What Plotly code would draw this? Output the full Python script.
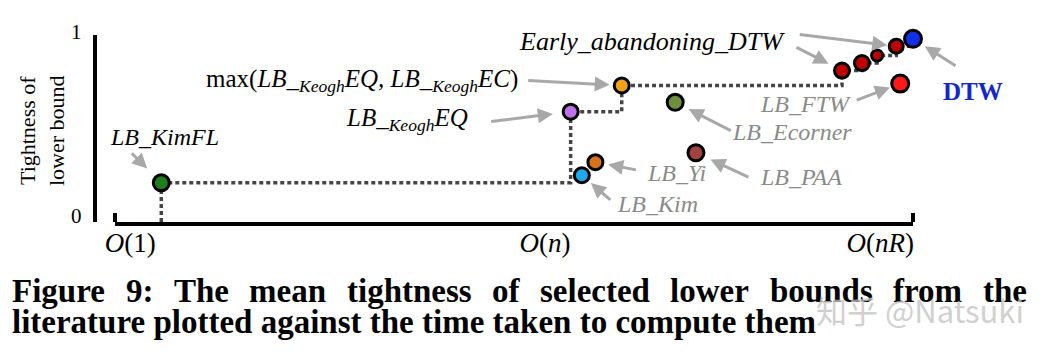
import plotly.graph_objects as go

# ---------------- data ----------------
bounds = ["LB_KimFL", "LB_Kim", "LB_Yi", "LB_KeoghEQ", "max_Keogh",
          "EA_DTW_1", "EA_DTW_2", "EA_DTW_3", "EA_DTW_4",
          "LB_Ecorner", "LB_PAA", "LB_FTW", "DTW"]
time_cost = [5.8, 58.5, 60.2, 57.1, 63.5, 91.1, 93.6, 95.5, 97.9, 70.2, 72.8, 98.4, 100.0]
tightness = [0.21, 0.25, 0.32, 0.59, 0.73, 0.81, 0.85, 0.89, 0.94, 0.64, 0.37, 0.74, 0.98]

# lower-envelope (best bound for given time) path
frontier = ["LB_KimFL", "LB_KeoghEQ", "max_Keogh", "EA_DTW_1", "EA_DTW_2",
            "EA_DTW_3", "EA_DTW_4", "DTW"]

complexity_pos = [1.9, 53.9, 95.9]
complexity_labels = ["<i>O</i>(1)", "<i>O</i>(<i>n</i>)", "<i>O</i>(<i>nR</i>)"]
y_tick_vals = [0, 1]
y_tick_text = ["0", "1"]

# ---------------- styles ----------------
colors = {
    "LB_KimFL": "#1e7d1e", "LB_Kim": "#22a8ec", "LB_Yi": "#d8731a",
    "LB_KeoghEQ": "#c070ea", "max_Keogh": "#f4a21c",
    "EA_DTW_1": "#c00000", "EA_DTW_2": "#c00000", "EA_DTW_3": "#c00000", "EA_DTW_4": "#c00000",
    "LB_Ecorner": "#6f8f3a", "LB_PAA": "#a04242", "LB_FTW": "#ff1a1a", "DTW": "#1030e8",
}
sizes = {
    "LB_KimFL": 16, "LB_Kim": 15, "LB_Yi": 15, "LB_KeoghEQ": 15, "max_Keogh": 15,
    "EA_DTW_1": 15, "EA_DTW_2": 15, "EA_DTW_3": 11, "EA_DTW_4": 14,
    "LB_Ecorner": 16, "LB_PAA": 16, "LB_FTW": 17, "DTW": 17,
}

SERIF = "Liberation Serif, Times New Roman, serif"
OFF = 8                      # page body margin added by the html page
PAGE_W, PAGE_H = 1048, 356
W, H = PAGE_W - OFF, PAGE_H - OFF
ML, MT = 95 - OFF, 35 - OFF
MR, MB = PAGE_W - 913, PAGE_H - 222
PW, PH = W - ML - MR, H - MT - MB

def px2paper(xp, yp):
    """page pixel -> paper coords"""
    return (xp - OFF - ML) / PW, (H - MB - (yp - OFF)) / PH

idx = {b: i for i, b in enumerate(bounds)}
fx = [time_cost[idx[b]] for b in frontier]
fy = [tightness[idx[b]] for b in frontier]

fig = go.Figure()

dot_line = dict(color="#454545", width=3.5, dash="4px,3px")
fig.add_trace(go.Scatter(x=[fx[0], fx[0]], y=[0, fy[0]], mode="lines",
                         line=dot_line, hoverinfo="skip", cliponaxis=False))
fig.add_trace(go.Scatter(x=fx, y=fy, mode="lines", line=dot_line, line_shape="hv",
                         hoverinfo="skip", cliponaxis=False))
fig.add_trace(go.Scatter(
    x=time_cost, y=tightness, mode="markers", cliponaxis=False, opacity=1,
    marker=dict(color=[colors[b] for b in bounds], size=[sizes[b] for b in bounds],
                opacity=1, line=dict(color="black", width=3)),
    text=bounds, hoverinfo="text"))

ann = []
GRAY = "#8a8a8a"
ARROW = "#a8a8a8"

def label(b, text, xshift, yshift, color="black", size=24, anchor="center"):
    ann.append(dict(x=time_cost[idx[b]], y=tightness[idx[b]], text=text, showarrow=False,
                    xshift=xshift, yshift=yshift, xanchor=anchor, yanchor="middle",
                    font=dict(family=SERIF, size=size, color=color)))

def arrow(b, ax, ay, standoff):
    ann.append(dict(x=time_cost[idx[b]], y=tightness[idx[b]], text="", showarrow=True,
                    ax=ax, ay=ay, standoff=standoff, arrowhead=2, arrowsize=1,
                    arrowwidth=3, arrowcolor=ARROW))

label("LB_KimFL", "<i>LB_KimFL</i>", 3, 46)
arrow("LB_KimFL", -31, -31, 20)
label("max_Keogh", "max(<i>LB_<sub>Keogh</sub>EQ, LB_<sub>Keogh</sub>EC</i>)", -102, 5, anchor="right", size=25)
arrow("max_Keogh", -95, -5, 12)
label("LB_KeoghEQ", "<i>LB_<sub>Keogh</sub>EQ</i>", -101, -8, anchor="right", size=25)
arrow("LB_KeoghEQ", -81, 10, 18)
label("EA_DTW_1", "<i>Early_abandoning_DTW</i>", -55, 29, anchor="right", size=26)
arrow("EA_DTW_4", -98, -12, 9)
arrow("EA_DTW_1", -47, -24, 15)
label("DTW", "<b>DTW</b>", 60, -53, color="#1428c8", size=25)
arrow("DTW", 44, 28, 14)
label("LB_FTW", "<i>LB_FTW</i>", -47, -20, color=GRAY, anchor="right")
arrow("LB_FTW", -45, 17, 11)
label("LB_Ecorner", "<i>LB_Ecorner</i>", 55, -30, color=GRAY, anchor="left")
arrow("LB_Ecorner", 57, 29, 15)
label("LB_PAA", "<i>LB_PAA</i>", 62, -24, color=GRAY, anchor="left")
arrow("LB_PAA", 54, 25, 16)
label("LB_Yi", "<i>LB_Yi</i>", 50, -11, color=GRAY, anchor="left")
arrow("LB_Yi", 42, 8, 13)
label("LB_Kim", "<i>LB_Kim</i>", 33, -29, color=GRAY, anchor="left")
arrow("LB_Kim", 30, 26, 12)

# y tick labels (sit slightly above their bracket ticks)
lx, _ = px2paper(76, 0)
for v, t, ys in zip(y_tick_vals, y_tick_text, [6, 3]):
    ann.append(dict(xref="paper", yref="y", x=lx, y=v, yshift=ys, text=t, showarrow=False,
                    xanchor="center", yanchor="middle",
                    font=dict(family=SERIF, size=21, color="black")))

# y-axis title (two lines, rotated)
tx, ty = px2paper(42, 131)
ann.append(dict(xref="paper", yref="paper", x=tx, y=ty, text="Tightness of<br>lower bound",
                textangle=-90, showarrow=False, xanchor="center", yanchor="middle",
                font=dict(family=SERIF, size=22, color="black")))

# caption, justified first line
line1_words = ["Figure", "9:", "The", "mean", "tightness", "of", "selected", "lower", "bounds", "from", "the"]
line1_left = [10, 124, 172, 247, 345, 490, 538, 668, 768, 891, 981]
for w, xl in zip(line1_words, line1_left):
    cx, cy = px2paper(xl, 291)
    ann.append(dict(xref="paper", yref="paper", x=cx, y=cy, text=f"<b>{w}</b>", showarrow=False,
                    xanchor="left", yanchor="middle", font=dict(family=SERIF, size=33, color="black")))
cx, cy = px2paper(10, 322)
ann.append(dict(xref="paper", yref="paper", x=cx, y=cy,
                text="<b>literature plotted against the time taken to compute them</b>",
                showarrow=False, xanchor="left", yanchor="middle",
                font=dict(family=SERIF, size=33, color="black")))
# watermark
wx, wy = px2paper(1026, 309)
ann.append(dict(xref="paper", yref="paper", x=wx, y=wy, text="知乎 @Natsuki", showarrow=False,
                xanchor="right", yanchor="middle",
                font=dict(family="Noto Sans CJK SC, Noto Sans, sans-serif", size=31,
                          color="rgba(195,195,195,0.8)")))

fig.update_layout(
    width=W, height=H, margin=dict(l=ML, r=MR, t=MT, b=MB),
    paper_bgcolor="white", plot_bgcolor="white", showlegend=False,
    annotations=ann,
    xaxis=dict(domain=[20 / PW, 1], range=[0, 100], showgrid=False, zeroline=False,
               showline=True, linewidth=4, linecolor="black",
               tickmode="array", tickvals=complexity_pos, ticktext=complexity_labels, ticks="",
               ticklabelstandoff=-6,
               tickfont=dict(family=SERIF, size=27, color="black"),
               minor=dict(tickmode="array", tickvals=[0, 100], ticks="inside", ticklen=9,
                          tickwidth=4, tickcolor="black", showgrid=False)),
    yaxis=dict(anchor="free", position=0, range=[0, 1], showgrid=False, zeroline=False,
               showline=True, linewidth=4, linecolor="black",
               tickmode="array", tickvals=y_tick_vals, showticklabels=False,
               ticks="inside", ticklen=10, tickwidth=4, tickcolor="black"),
)

fig.write_html("out.html")
